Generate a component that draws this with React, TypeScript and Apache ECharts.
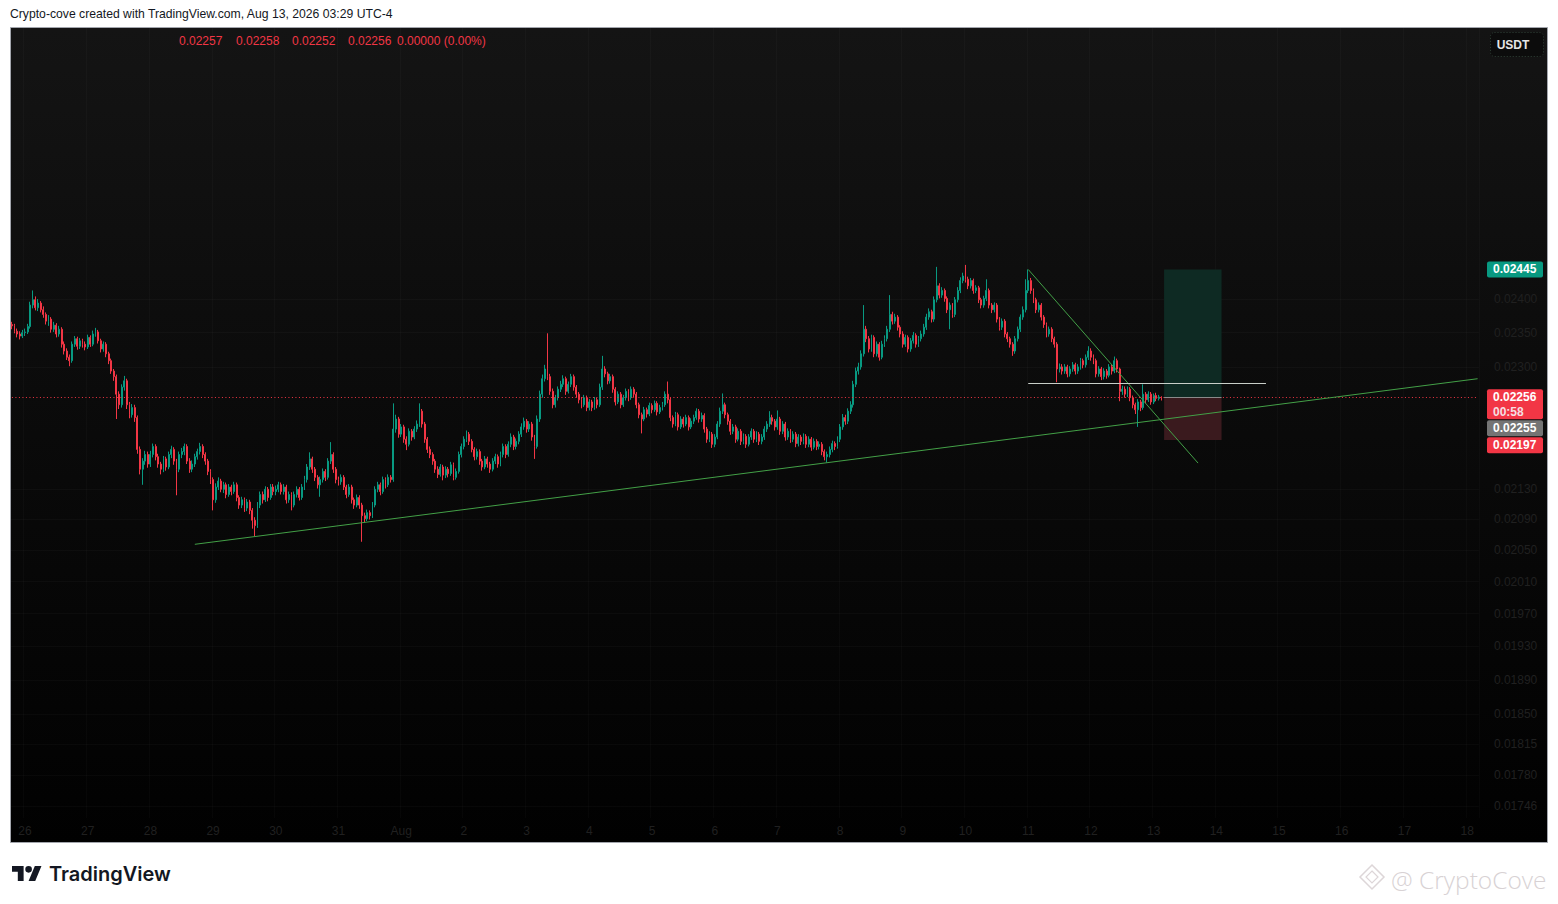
import React, { useEffect, useRef } from "react";
import * as echarts from "echarts";

// ---------- data (prices × 1e5, 1-hour candles, Jul 25 19:00 → Aug 13 03:00) ----------
const PRICE_SCALE = 1e5;
const firstOpen = 2362;
const closes = [
  2360, 2352, 2348, 2345, 2350,
  2351, 2359, 2391, 2399, 2387, 2394, 2384, 2377, 2367, 2370, 2355, 2361, 2348, 2355, 2333, 2323, 2314, 2309, 2333, 2341, 2330, 2338, 2333, 2329,
  2343, 2333, 2348, 2351, 2338, 2326, 2333, 2319, 2309, 2294, 2286, 2261, 2246, 2271, 2280, 2246, 2232, 2242, 2228, 2184, 2157, 2168, 2177, 2164,
  2177, 2188, 2174, 2164, 2157, 2171, 2160, 2177, 2184, 2168, 2157, 2177, 2181, 2188, 2168, 2157, 2164, 2174, 2181, 2188, 2177, 2168, 2154, 2143,
  2116, 2133, 2141, 2130, 2136, 2123, 2133, 2127, 2136, 2119, 2109, 2116, 2105, 2113, 2102, 2089, 2082, 2109, 2123, 2116, 2130, 2119, 2133, 2127,
  2130, 2136, 2127, 2133, 2116, 2123, 2109, 2123, 2130, 2119, 2133, 2143, 2160, 2171, 2157, 2146, 2136, 2143, 2154, 2146, 2168, 2177, 2157, 2143,
  2140, 2146, 2133, 2123, 2133, 2116, 2109, 2119, 2109, 2095, 2091, 2099, 2095, 2109, 2130, 2136, 2127, 2143, 2136, 2146, 2143, 2212, 2226, 2205,
  2215, 2198, 2191, 2209, 2201, 2212, 2219, 2237, 2219, 2198, 2184, 2177, 2168, 2157, 2150, 2160, 2149, 2157, 2151, 2163, 2146, 2154, 2177, 2188,
  2198, 2205, 2195, 2184, 2174, 2181, 2168, 2160, 2171, 2164, 2157, 2168, 2174, 2164, 2177, 2188, 2177, 2191, 2201, 2188, 2195, 2205, 2215, 2223,
  2212, 2219, 2201, 2188, 2226, 2261, 2283, 2297, 2286, 2265, 2246, 2256, 2268, 2275, 2283, 2265, 2275, 2286, 2271, 2261, 2253, 2246, 2256, 2242,
  2250, 2242, 2253, 2246, 2271, 2297, 2290, 2280, 2286, 2268, 2250, 2261, 2246, 2256, 2265, 2256, 2268, 2261, 2246, 2232, 2226, 2239, 2233, 2245,
  2239, 2248, 2236, 2242, 2246, 2261, 2253, 2228, 2219, 2232, 2215, 2226, 2219, 2228, 2215, 2223, 2228, 2237, 2226, 2231, 2212, 2198, 2205, 2191,
  2201, 2219, 2237, 2246, 2232, 2223, 2209, 2215, 2198, 2209, 2195, 2202, 2191, 2201, 2209, 2198, 2205, 2195, 2201, 2212, 2219, 2228, 2223, 2215,
  2226, 2209, 2219, 2201, 2209, 2198, 2205, 2192, 2201, 2195, 2202, 2191, 2198, 2187, 2195, 2188, 2191, 2181, 2174, 2177, 2184, 2192, 2188, 2198,
  2215, 2228, 2223, 2237, 2246, 2275, 2294, 2300, 2319, 2355, 2341, 2326, 2343, 2319, 2333, 2314, 2333, 2341, 2355, 2377, 2367, 2373, 2358, 2348,
  2333, 2343, 2326, 2338, 2346, 2333, 2341, 2348, 2358, 2373, 2381, 2370, 2399, 2420, 2406, 2413, 2401, 2384, 2391, 2377, 2399, 2413, 2428, 2435,
  2430, 2420, 2428, 2413, 2417, 2399, 2391, 2401, 2413, 2391, 2384, 2391, 2370, 2358, 2367, 2348, 2341, 2333, 2323, 2341, 2355, 2373, 2384, 2413,
  2428, 2413, 2399, 2384, 2391, 2373, 2362, 2348, 2355, 2341, 2333, 2297, 2300, 2294, 2300, 2290, 2297, 2303, 2294, 2300, 2309, 2303, 2314, 2323,
  2314, 2309, 2290, 2297, 2286, 2294, 2288, 2300, 2294, 2309, 2297, 2265, 2268, 2261, 2268, 2256, 2246, 2239, 2250, 2242, 2261, 2253, 2261, 2250,
  2259, 2255, 2257, 2256,
];
const highs = [
  2366, 2363, 2356, 2352, 2354,
  2356, 2363, 2396, 2413, 2404, 2400, 2397, 2389, 2380, 2376, 2373, 2366, 2364, 2360, 2358, 2337, 2327, 2318, 2337, 2345, 2344, 2342, 2341, 2337,
  2347, 2346, 2353, 2357, 2354, 2341, 2337, 2336, 2322, 2312, 2297, 2289, 2265, 2275, 2287, 2283, 2250, 2247, 2246, 2231, 2188, 2172, 2182, 2181,
  2182, 2192, 2191, 2178, 2167, 2175, 2174, 2181, 2189, 2187, 2171, 2181, 2186, 2192, 2191, 2172, 2169, 2178, 2185, 2193, 2191, 2180, 2171, 2157,
  2146, 2138, 2146, 2144, 2140, 2139, 2137, 2136, 2140, 2139, 2122, 2120, 2119, 2117, 2116, 2105, 2093, 2113, 2127, 2127, 2134, 2133, 2137, 2137,
  2135, 2140, 2139, 2137, 2136, 2127, 2126, 2127, 2134, 2133, 2137, 2148, 2164, 2180, 2174, 2160, 2149, 2147, 2158, 2157, 2172, 2194, 2180, 2160,
  2147, 2150, 2149, 2136, 2137, 2136, 2119, 2123, 2122, 2112, 2099, 2103, 2102, 2113, 2134, 2140, 2139, 2147, 2146, 2150, 2149, 2248, 2232, 2229,
  2219, 2218, 2202, 2213, 2212, 2216, 2224, 2248, 2240, 2222, 2201, 2188, 2180, 2171, 2161, 2164, 2163, 2161, 2160, 2167, 2166, 2158, 2181, 2192,
  2202, 2210, 2208, 2198, 2187, 2185, 2184, 2171, 2175, 2174, 2167, 2172, 2178, 2177, 2181, 2192, 2191, 2195, 2206, 2204, 2199, 2209, 2220, 2228,
  2226, 2223, 2222, 2204, 2231, 2266, 2289, 2303, 2349, 2290, 2269, 2260, 2272, 2280, 2288, 2286, 2279, 2290, 2289, 2274, 2264, 2257, 2260, 2259,
  2254, 2253, 2257, 2256, 2276, 2316, 2301, 2293, 2290, 2289, 2271, 2265, 2264, 2260, 2269, 2268, 2272, 2271, 2264, 2249, 2235, 2243, 2242, 2249,
  2248, 2252, 2251, 2246, 2250, 2265, 2279, 2256, 2231, 2236, 2235, 2230, 2229, 2232, 2231, 2227, 2232, 2241, 2240, 2235, 2234, 2215, 2209, 2208,
  2205, 2223, 2242, 2262, 2249, 2235, 2226, 2219, 2218, 2213, 2212, 2206, 2205, 2205, 2213, 2212, 2209, 2208, 2205, 2216, 2223, 2237, 2232, 2226,
  2238, 2229, 2223, 2222, 2213, 2212, 2209, 2208, 2205, 2204, 2206, 2205, 2202, 2201, 2199, 2198, 2195, 2194, 2184, 2181, 2188, 2196, 2195, 2202,
  2219, 2233, 2232, 2241, 2251, 2280, 2299, 2306, 2324, 2391, 2360, 2345, 2347, 2346, 2337, 2336, 2338, 2346, 2360, 2406, 2381, 2378, 2376, 2361,
  2352, 2347, 2346, 2342, 2351, 2349, 2345, 2353, 2363, 2378, 2386, 2384, 2404, 2449, 2424, 2418, 2416, 2404, 2395, 2394, 2403, 2418, 2433, 2440,
  2452, 2434, 2432, 2431, 2421, 2420, 2402, 2405, 2430, 2416, 2394, 2395, 2394, 2373, 2371, 2370, 2351, 2344, 2336, 2345, 2359, 2377, 2389, 2430,
  2445, 2432, 2416, 2402, 2395, 2394, 2376, 2365, 2359, 2358, 2344, 2336, 2305, 2304, 2304, 2303, 2301, 2307, 2306, 2304, 2313, 2312, 2318, 2330,
  2327, 2318, 2312, 2301, 2300, 2298, 2297, 2304, 2303, 2315, 2312, 2299, 2273, 2272, 2272, 2271, 2259, 2249, 2254, 2253, 2275, 2264, 2265, 2264,
  2262, 2263, 2260, 2258,
];
const lows = [
  2355, 2349, 2343, 2340, 2342,
  2345, 2348, 2356, 2386, 2383, 2382, 2380, 2372, 2362, 2360, 2350, 2351, 2343, 2344, 2328, 2318, 2310, 2301, 2306, 2329, 2325, 2326, 2328, 2324,
  2326, 2329, 2330, 2344, 2334, 2321, 2322, 2314, 2304, 2290, 2280, 2226, 2240, 2242, 2266, 2240, 2227, 2228, 2222, 2178, 2150, 2136, 2163, 2159,
  2160, 2173, 2169, 2159, 2150, 2153, 2155, 2157, 2172, 2163, 2122, 2153, 2172, 2176, 2164, 2152, 2153, 2160, 2170, 2177, 2172, 2163, 2149, 2137,
  2102, 2112, 2129, 2126, 2125, 2118, 2120, 2122, 2124, 2114, 2104, 2105, 2100, 2101, 2097, 2078, 2068, 2079, 2105, 2111, 2113, 2114, 2116, 2122,
  2122, 2126, 2123, 2123, 2111, 2112, 2102, 2106, 2119, 2115, 2116, 2129, 2139, 2156, 2152, 2141, 2131, 2120, 2139, 2141, 2143, 2164, 2152, 2138,
  2135, 2136, 2129, 2118, 2120, 2111, 2104, 2106, 2104, 2061, 2086, 2088, 2090, 2092, 2106, 2126, 2122, 2124, 2131, 2133, 2139, 2140, 2207, 2200,
  2201, 2193, 2183, 2188, 2196, 2198, 2208, 2215, 2214, 2193, 2179, 2172, 2163, 2152, 2145, 2147, 2142, 2145, 2146, 2148, 2142, 2143, 2151, 2173,
  2184, 2194, 2190, 2180, 2169, 2170, 2163, 2155, 2157, 2159, 2152, 2154, 2164, 2159, 2161, 2173, 2172, 2174, 2187, 2183, 2184, 2191, 2201, 2211,
  2207, 2208, 2196, 2171, 2185, 2222, 2256, 2279, 2281, 2260, 2241, 2242, 2252, 2264, 2271, 2260, 2262, 2271, 2266, 2256, 2248, 2241, 2243, 2237,
  2238, 2237, 2239, 2241, 2243, 2267, 2285, 2275, 2276, 2263, 2245, 2247, 2241, 2243, 2252, 2251, 2253, 2256, 2241, 2227, 2206, 2223, 2228, 2230,
  2234, 2236, 2231, 2233, 2238, 2243, 2248, 2223, 2214, 2216, 2210, 2212, 2214, 2216, 2210, 2212, 2219, 2225, 2221, 2222, 2207, 2193, 2194, 2186,
  2187, 2198, 2215, 2233, 2227, 2218, 2204, 2205, 2193, 2195, 2190, 2191, 2186, 2188, 2197, 2193, 2194, 2190, 2191, 2197, 2208, 2215, 2218, 2210,
  2211, 2204, 2205, 2196, 2197, 2193, 2194, 2187, 2188, 2190, 2191, 2186, 2187, 2182, 2184, 2183, 2184, 2176, 2169, 2166, 2173, 2180, 2183, 2185,
  2194, 2211, 2218, 2219, 2233, 2242, 2271, 2289, 2296, 2315, 2336, 2321, 2322, 2314, 2315, 2309, 2311, 2329, 2337, 2351, 2362, 2363, 2353, 2343,
  2328, 2329, 2321, 2322, 2334, 2328, 2329, 2337, 2344, 2354, 2369, 2365, 2366, 2395, 2401, 2402, 2396, 2379, 2355, 2372, 2373, 2395, 2409, 2424,
  2425, 2415, 2416, 2408, 2409, 2394, 2386, 2387, 2397, 2386, 2379, 2380, 2365, 2353, 2354, 2343, 2336, 2328, 2316, 2319, 2337, 2351, 2369, 2380,
  2409, 2408, 2394, 2379, 2380, 2368, 2357, 2343, 2344, 2336, 2328, 2278, 2292, 2289, 2290, 2285, 2286, 2293, 2289, 2290, 2296, 2298, 2299, 2310,
  2309, 2304, 2285, 2286, 2281, 2282, 2283, 2285, 2289, 2291, 2292, 2251, 2260, 2256, 2257, 2251, 2241, 2233, 2215, 2237, 2239, 2248, 2250, 2246,
  2247, 2251, 2252, 2252,
];

// right price scale (log) tick labels that are visible
const yTickValues = [0.024, 0.0235, 0.023, 0.0213, 0.0209, 0.0205, 0.0201, 0.0197, 0.0193, 0.0189, 0.0185, 0.01815, 0.0178, 0.01746];
const yMin = 0.01733;
const yMax = 0.02845;

// position tool / levels
const targetPrice = 0.02445;
const lastPrice = 0.02256;
const entryPrice = 0.02255;
const stopPrice = 0.02197;
const countdown = "00:58";
const changeText = "0.00000 (0.00%)";

// drawings: [categoryIndex, price]
const upTrend = [[70, 0.020577], [561, 0.02283]];
const downTrend = [[389, 0.02445], [454, 0.021653]];
const levelLine = [[389, 0.022764], [480, 0.022764]];
const positionSpan = [441, 463];

const headerText = "Crypto-cove created with TradingView.com, Aug 13, 2026 03:29 UTC-4";
const monthNames = ["Jan", "Feb", "Mar", "Apr", "May", "Jun", "Jul", "Aug", "Sep", "Oct", "Nov", "Dec"];

// time axis: hourly slots, from first candle to Aug 18 04:00
const HOUR = 3600000;
const firstCandleTime = Date.UTC(2026, 6, 25, 19, 0);
const axisSlots = 562;
const pad = (n: number) => (n < 10 ? "0" + n : "" + n);
const categories: string[] = [];
for (let i = 0; i < axisSlots; i++) {
  const d = new Date(firstCandleTime + i * HOUR);
  categories.push(`${d.getUTCFullYear()}-${pad(d.getUTCMonth() + 1)}-${pad(d.getUTCDate())} ${pad(d.getUTCHours())}:00`);
}

const opens = [firstOpen, ...closes.slice(0, -1)];
const candles = closes.map((c, i) => [opens[i] / PRICE_SCALE, c / PRICE_SCALE, lows[i] / PRICE_SCALE, highs[i] / PRICE_SCALE]);

const UP = "#089981";
const DOWN = "#f23645";
const FONT = '"Liberation Sans", Arial, sans-serif';
const DIM = "#202020";

echarts.graphic.registerShape(
  "tvlogo",
  echarts.graphic.extendPath("M14 22H7V11H0V4h14v18zM28 22h-8l7.5-18h8L28 22zM16 8a4 4 0 1 0 8 0a4 4 0 1 0-8 0z", {})
);

const isDayStart = (v: string) => v.endsWith(" 00:00");

export default function App() {
  const ref = useRef<HTMLDivElement>(null);
  useEffect(() => {
    if (!ref.current) return;
    const chart = echarts.init(ref.current, null, { renderer: "svg" });
    const cat = (i: number) => categories[i];
    const option: any = {
      animation: false,
      backgroundColor: "#ffffff",
      grid: { left: 10.63, right: 79.1, top: 28, bottom: 86 },
      xAxis: {
        type: "category",
        data: categories,
        boundaryGap: true,
        axisLine: { show: false },
        axisTick: { show: false },
        axisLabel: {
          interval: (_i: number, v: string) => isDayStart(v),
          formatter: (v: string) => {
            const day = parseInt(v.slice(8, 10), 10);
            const mon = parseInt(v.slice(5, 7), 10);
            return day === 1 ? monthNames[mon - 1] : String(day);
          },
          color: DIM,
          fontSize: 12,
          fontFamily: FONT,
          margin: 7,
        },
        splitLine: {
          show: true,
          interval: (_i: number, v: string) => isDayStart(v),
          lineStyle: { color: "rgba(255,255,255,0.025)", width: 1 },
        },
      },
      yAxis: {
        type: "log",
        logBase: 10,
        min: yMin,
        max: yMax,
        position: "right",
        axisLine: { show: false },
        axisTick: { show: false, customValues: yTickValues },
        axisLabel: {
          customValues: yTickValues,
          formatter: (v: number) => v.toFixed(5),
          color: DIM,
          fontSize: 12,
          fontFamily: FONT,
          margin: 15,
        },
        splitLine: { show: true, lineStyle: { color: "rgba(255,255,255,0.028)", width: 1 } },
      },
      series: [
        {
          type: "candlestick",
          data: candles,
          barWidth: 1.4,
          itemStyle: { color: UP, color0: DOWN, borderColor: UP, borderColor0: DOWN, borderWidth: 1 },
          markArea: {
            silent: true,
            data: [
              [
                { coord: [cat(positionSpan[0]), targetPrice], itemStyle: { color: "#0e2a23" } },
                { coord: [cat(positionSpan[1]), lastPrice] },
              ],
              [
                { coord: [cat(positionSpan[0]), lastPrice], itemStyle: { color: "#3a1a1e" } },
                { coord: [cat(positionSpan[1]), stopPrice] },
              ],
            ],
          },
          markLine: {
            silent: true,
            symbol: ["none", "none"],
            label: { show: false },
            data: [
              [
                { coord: [cat(0), lastPrice], lineStyle: { color: DOWN, width: 1, type: [1, 2.5] } },
                { coord: [cat(axisSlots - 1), lastPrice] },
              ],
              [
                { coord: [cat(upTrend[0][0]), upTrend[0][1]], lineStyle: { color: "#43a047", width: 1, type: "solid" } },
                { coord: [cat(upTrend[1][0]), upTrend[1][1]] },
              ],
              [
                { coord: [cat(downTrend[0][0]), downTrend[0][1]], lineStyle: { color: "#43a047", width: 1, type: "solid" } },
                { coord: [cat(downTrend[1][0]), downTrend[1][1]] },
              ],
              [
                { coord: [cat(levelLine[0][0]), levelLine[0][1]], lineStyle: { color: "#c9cfc9", width: 1, type: "solid" } },
                { coord: [cat(levelLine[1][0]), levelLine[1][1]] },
              ],
              [
                { coord: [cat(positionSpan[0]), lastPrice], lineStyle: { color: "#8a8a8a", width: 1, type: "solid" } },
                { coord: [cat(positionSpan[1]), lastPrice] },
              ],
            ],
          },
        },
      ],
    };
    chart.setOption(option);

    const yOf = (p: number) => chart.convertToPixel({ yAxisIndex: 0 } as any, p) as number;
    const yT = yOf(targetPrice);
    const yE = yOf(lastPrice);
    const last = closes.length - 1;
    const ohlc = [opens[last], highs[last], lows[last], closes[last]].map((v) => (v / PRICE_SCALE).toFixed(5));
    const ohlcX = [179, 236, 292, 348];

    const tag = (id: string, y: number, h: number, fill: string) => ({
      type: "rect",
      id,
      z: 50,
      shape: { x: 1487, y, width: 56, height: h, r: 2 },
      style: { fill },
    });
    const tagText = (id: string, text: string, y: number, color = "#ffffff") => ({
      type: "text",
      id,
      z: 51,
      x: 1493,
      y,
      style: { text, fill: color, fontSize: 12, fontFamily: FONT, fontWeight: "bold", verticalAlign: "middle", align: "left" },
    });

    const graphics: any[] = [
      {
        type: "rect",
        id: "panel",
        z: -10,
        shape: { x: 10.5, y: 27.5, width: 1537, height: 815 },
        style: {
          fill: new echarts.graphic.LinearGradient(0, 0, 0, 1, [
            { offset: 0, color: "#141414" },
            { offset: 0.5, color: "#0a0a0a" },
            { offset: 1, color: "#010101" },
          ]),
          stroke: "#a3a6ad",
          lineWidth: 1,
        },
      },
      {
        type: "text",
        id: "header",
        x: 10,
        y: 14,
        style: { text: headerText, fill: "#131722", fontSize: 12.2, fontFamily: FONT, verticalAlign: "middle" },
      },
      ...ohlc.map((t, i) => ({
        type: "text",
        id: "ohlc" + i,
        z: 50,
        x: ohlcX[i],
        y: 41,
        style: { text: t, fill: DOWN, fontSize: 12, fontFamily: FONT, verticalAlign: "middle" },
      })),
      {
        type: "text",
        id: "chg",
        z: 50,
        x: 397,
        y: 41,
        style: { text: changeText, fill: DOWN, fontSize: 12, fontFamily: FONT, verticalAlign: "middle" },
      },
      {
        type: "rect",
        id: "usdtBtn",
        z: 50,
        shape: { x: 1490.5, y: 32.5, width: 53, height: 24, r: 4 },
        style: { fill: "#0c0c0c", stroke: "#2f4036", lineWidth: 1, lineDash: [1, 2] },
      },
      {
        type: "text",
        id: "usdtTxt",
        z: 51,
        x: 1513,
        y: 45,
        style: { text: "USDT", fill: "#e6e6e6", fontSize: 12, fontWeight: "bold", fontFamily: FONT, align: "center", verticalAlign: "middle" },
      },
      tag("tagT", yT - 8, 16, UP),
      tagText("tagTt", targetPrice.toFixed(5), yT),
      tag("tagL", yE - 8.5, 30, DOWN),
      tagText("tagLt", lastPrice.toFixed(5), yE - 0.5),
      tagText("tagLc", countdown, yE + 14.5, "#f5dfe1"),
      tag("tagE", yE + 22.5, 16, "#747474"),
      tagText("tagEt", entryPrice.toFixed(5), yE + 30.5),
      tag("tagS", yE + 39.5, 16, DOWN),
      tagText("tagSt", stopPrice.toFixed(5), yE + 47.5),
      {
        type: "tvlogo",
        id: "tvlogo",
        x: 12,
        y: 862.7,
        scaleX: 0.83,
        scaleY: 0.83,
        style: { fill: "#131722" },
      },
      {
        type: "text",
        id: "tvtext",
        x: 49,
        y: 874,
        style: { text: "TradingView", fill: "#131722", fontSize: 20, fontWeight: 600, fontFamily: "Inter, sans-serif", verticalAlign: "middle" },
      },
      {
        type: "polygon",
        id: "ccLogo",
        shape: { points: [[1372, 865], [1384, 877], [1372, 889], [1360, 877]] },
        style: { fill: "none", stroke: "#ddd6d8", lineWidth: 1.5 },
      },
      {
        type: "polygon",
        id: "ccLogo2",
        shape: { points: [[1372, 871], [1378, 877], [1372, 883], [1366, 877]] },
        style: { fill: "none", stroke: "#ddd6d8", lineWidth: 1.2 },
      },
      {
        type: "text",
        id: "cctext",
        x: 1391,
        y: 879,
        style: { text: "@ CryptoCove", fill: "#d8d2d4", fontSize: 24.5, fontWeight: 300, fontFamily: '"Open Sans", sans-serif', verticalAlign: "middle" },
      },
    ];
    chart.setOption({ graphic: graphics });

    return () => chart.dispose();
  }, []);

  return (
    <div style={{ position: "fixed", left: 0, top: 0, width: 1558, height: 904, background: "#ffffff" }}>
      <div ref={ref} style={{ width: 1558, height: 904 }} />
    </div>
  );
}
